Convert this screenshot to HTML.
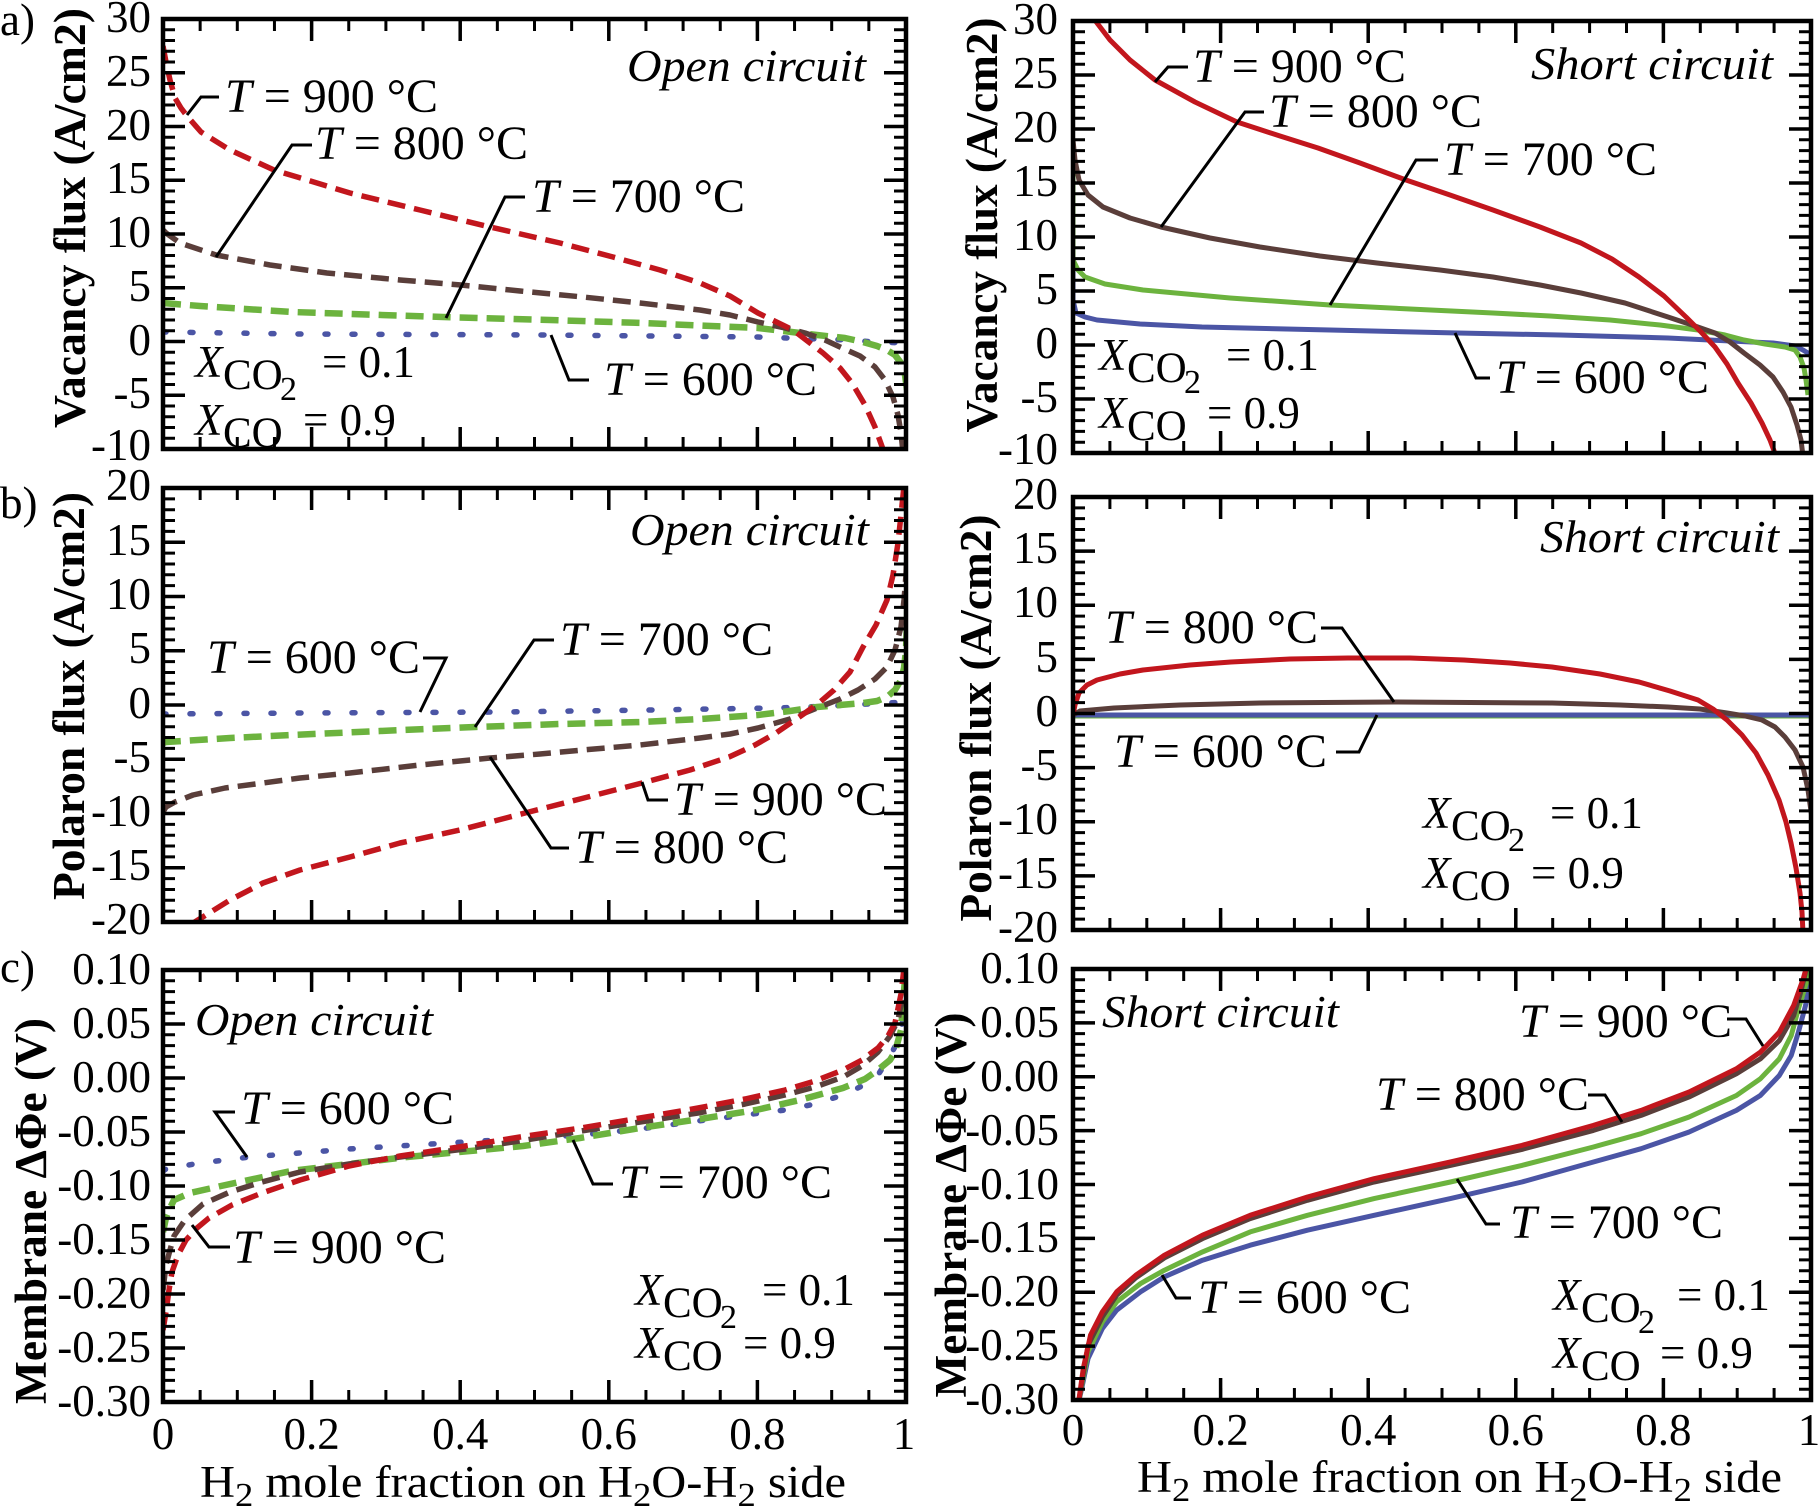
<!DOCTYPE html>
<html><head><meta charset="utf-8"><style>
html,body{margin:0;padding:0;background:#fff;}
svg{display:block;}
text{font-family:"Liberation Serif","DejaVu Serif",serif;fill:#000;}
.tl{font-size:45px;}
.tr{font-size:45px;text-anchor:end;}
.tc{font-size:45px;text-anchor:middle;}
.lab{font-size:48px;}
.it{font-style:italic;}
.yl{font-size:45px;font-weight:bold;text-anchor:middle;}
.sb{font-size:43px;}
.ss{font-size:34px;}
.ld{fill:none;stroke:#000;stroke-width:3;}
.fr{fill:none;stroke:#000;stroke-width:4.5;}
.tk line{stroke:#000;}
.c{fill:none;stroke-linejoin:round;}
.r{stroke:#c2161d;}
.b{stroke:#5a3e3a;}
.g{stroke:#6cb33e;}
.u{stroke:#4b55a5;}
.ds{stroke-width:5.5;stroke-dasharray:18 9;}
.dg{stroke-width:6.5;stroke-dasharray:18 9;}
.dt{stroke-width:5.5;stroke-dasharray:3 24;stroke-linecap:round;}
.so{stroke-width:5;}
</style></head><body>
<svg width="1820" height="1507" viewBox="0 0 1820 1507" xmlns="http://www.w3.org/2000/svg">
<defs>
<clipPath id="cAL"><rect x="163" y="19" width="743" height="430"/></clipPath>
<clipPath id="cAR"><rect x="1073" y="21" width="738" height="432"/></clipPath>
<clipPath id="cBL"><rect x="163" y="488" width="743" height="434"/></clipPath>
<clipPath id="cBR"><rect x="1073" y="497" width="738" height="433"/></clipPath>
<clipPath id="cCL"><rect x="163" y="970" width="743" height="432"/></clipPath>
<clipPath id="cCR"><rect x="1073" y="969" width="738" height="431"/></clipPath>
</defs>
<rect width="1820" height="1507" fill="#fff"/>

<!-- ===== Panel a left ===== -->
<g clip-path="url(#cAL)">
<polyline class="c u dt" points="163,332 300,334 548,335 758,337 850,340 875,342 906,343"/>
<polyline class="c g dg" points="163,303 200,306 292,312 443,317 550,320 642,323 758,328 817,335 845,338 863,342 877,346 887,350 895,355 901,363 905,375 907,390"/>
<polyline class="c b ds" points="163,230 166,233 180,243 216,255 270,265 327,273 400,280 461,285 520,291 583,297 640,303 700,310 730,315 758,322 785,328 805,333 825,340 840,347 860,356 875,367 885,380 893,397 898,415 901,433 903,452"/>
<polyline class="c r ds" points="163,46 166,62 170,80 175,98 181,108 187,116 201,132 230,150 274,170 350,193 420,210 490,227 560,243 613,257 660,270 700,283 730,296 758,313 793,330 823,353 840,368 852,383 865,405 875,427 884,452"/>
</g>
<rect class="fr" x="163" y="19" width="743" height="430"/>
<g class="tk">
<line x1="169" y1="19" x2="169" y2="449" stroke-width="12" stroke-dasharray="3 7.75" stroke-dashoffset="1.5"/>
<line x1="174" y1="19" x2="174" y2="449" stroke-width="22" stroke-dasharray="3.5 50.25" stroke-dashoffset="1.75"/>
<line x1="900" y1="19" x2="900" y2="449" stroke-width="12" stroke-dasharray="3 7.75" stroke-dashoffset="1.5"/>
<line x1="895" y1="19" x2="895" y2="449" stroke-width="22" stroke-dasharray="3.5 50.25" stroke-dashoffset="1.75"/>
<line x1="163" y1="25" x2="906" y2="25" stroke-width="12" stroke-dasharray="3 34.15" stroke-dashoffset="1.5"/>
<line x1="163" y1="30" x2="906" y2="30" stroke-width="22" stroke-dasharray="3.5 145.1" stroke-dashoffset="1.75"/>
<line x1="163" y1="443" x2="906" y2="443" stroke-width="12" stroke-dasharray="3 34.15" stroke-dashoffset="1.5"/>
<line x1="163" y1="438" x2="906" y2="438" stroke-width="22" stroke-dasharray="3.5 145.1" stroke-dashoffset="1.75"/>
</g>
<text class="tr" x="151" y="32">30</text>
<text class="tr" x="151" y="86">25</text>
<text class="tr" x="151" y="140">20</text>
<text class="tr" x="151" y="193">15</text>
<text class="tr" x="151" y="247">10</text>
<text class="tr" x="151" y="301">5</text>
<text class="tr" x="151" y="355">0</text>
<text class="tr" x="151" y="408">-5</text>
<text class="tr" x="151" y="460">-10</text>
<text class="tl" x="0" y="35">a)</text>
<text class="yl" transform="translate(85,218) rotate(-90)" textLength="420" lengthAdjust="spacingAndGlyphs">Vacancy flux (A/cm2)</text>
<text class="tl it" x="627" y="81" textLength="239" lengthAdjust="spacingAndGlyphs">Open circuit</text>
<polyline class="ld" points="187,115 201,97 219,97"/>
<text class="lab" x="225" y="112"><tspan class="it">T</tspan> = 900 °C</text>
<polyline class="ld" points="216,257 292,145 312,145"/>
<text class="lab" x="315" y="159"><tspan class="it">T</tspan> = 800 °C</text>
<polyline class="ld" points="446,318 505,197 525,197"/>
<text class="lab" x="532" y="212"><tspan class="it">T</tspan> = 700 °C</text>
<polyline class="ld" points="551,335 569,380 589,380"/>
<text class="lab" x="604" y="395"><tspan class="it">T</tspan> = 600 °C</text>
<text class="tl it" x="195" y="377">X</text>
<text class="sb" x="223" y="389">CO</text>
<text class="ss" x="280" y="400">2</text>
<text class="tl" x="322" y="377">= 0.1</text>
<text class="tl it" x="195" y="435">X</text>
<text class="sb" x="223" y="447">CO</text>
<text class="tl" x="303" y="435">= 0.9</text>

<!-- ===== Panel a right ===== -->
<g clip-path="url(#cAR)">
<polyline class="c u so" points="1073,268 1073,300 1076,313 1085,317 1097,320 1140,324 1202,327 1330,330 1458,333 1560,335 1668,338 1730,341 1773,343 1795,346 1803,350 1811,355"/>
<polyline class="c g so" points="1073,157 1073,200 1073,260 1078,270 1085,277 1105,284 1143,290 1230,298 1330,305 1410,309 1493,313 1550,316 1610,320 1660,325 1698,330 1725,335 1744,340 1765,344 1785,347 1795,350 1800,357 1804,368 1806,380 1808,395"/>
<polyline class="c b so" points="1073,140 1075,160 1079,180 1088,195 1103,207 1130,218 1161,227 1210,238 1260,247 1320,256 1377,263 1440,270 1493,277 1540,285 1581,293 1625,303 1668,317 1695,326 1715,333 1730,342 1744,353 1760,365 1773,377 1783,392 1791,407 1797,425 1801,440 1803,456"/>
<polyline class="c r so" points="1094,19 1110,40 1130,60 1155,80 1195,102 1237,122 1280,136 1318,148 1360,163 1406,180 1450,195 1493,210 1540,227 1581,243 1612,259 1639,277 1664,296 1686,317 1701,332 1715,347 1727,364 1738,383 1751,403 1762,423 1770,440 1776,456"/>
</g>
<rect class="fr" x="1073" y="21" width="738" height="432"/>
<g class="tk">
<line x1="1079" y1="21" x2="1079" y2="453" stroke-width="12" stroke-dasharray="3 7.8" stroke-dashoffset="1.5"/>
<line x1="1084" y1="21" x2="1084" y2="453" stroke-width="22" stroke-dasharray="3.5 50.5" stroke-dashoffset="1.75"/>
<line x1="1805" y1="21" x2="1805" y2="453" stroke-width="12" stroke-dasharray="3 7.8" stroke-dashoffset="1.5"/>
<line x1="1800" y1="21" x2="1800" y2="453" stroke-width="22" stroke-dasharray="3.5 50.5" stroke-dashoffset="1.75"/>
<line x1="1073" y1="27" x2="1811" y2="27" stroke-width="12" stroke-dasharray="3 33.9" stroke-dashoffset="1.5"/>
<line x1="1073" y1="32" x2="1811" y2="32" stroke-width="22" stroke-dasharray="3.5 144.1" stroke-dashoffset="1.75"/>
<line x1="1073" y1="447" x2="1811" y2="447" stroke-width="12" stroke-dasharray="3 33.9" stroke-dashoffset="1.5"/>
<line x1="1073" y1="442" x2="1811" y2="442" stroke-width="22" stroke-dasharray="3.5 144.1" stroke-dashoffset="1.75"/>
</g>
<text class="tr" x="1058" y="34">30</text>
<text class="tr" x="1058" y="88">25</text>
<text class="tr" x="1058" y="142">20</text>
<text class="tr" x="1058" y="196">15</text>
<text class="tr" x="1058" y="250">10</text>
<text class="tr" x="1058" y="304">5</text>
<text class="tr" x="1058" y="358">0</text>
<text class="tr" x="1058" y="412">-5</text>
<text class="tr" x="1058" y="464">-10</text>
<text class="yl" transform="translate(997,225) rotate(-90)" textLength="415" lengthAdjust="spacingAndGlyphs">Vacancy flux (A/cm2)</text>
<text class="tl it" x="1531" y="79" textLength="242" lengthAdjust="spacingAndGlyphs">Short circuit</text>
<polyline class="ld" points="1155,82 1168,67 1188,67"/>
<text class="lab" x="1193" y="82"><tspan class="it">T</tspan> = 900 °C</text>
<polyline class="ld" points="1161,227 1245,112 1264,112"/>
<text class="lab" x="1269" y="127"><tspan class="it">T</tspan> = 800 °C</text>
<polyline class="ld" points="1330,305 1416,160 1438,160"/>
<text class="lab" x="1444" y="175"><tspan class="it">T</tspan> = 700 °C</text>
<polyline class="ld" points="1455,333 1476,378 1490,378"/>
<text class="lab" x="1496" y="393"><tspan class="it">T</tspan> = 600 °C</text>
<text class="tl it" x="1099" y="370">X</text>
<text class="sb" x="1127" y="382">CO</text>
<text class="ss" x="1184" y="393">2</text>
<text class="tl" x="1226" y="370">= 0.1</text>
<text class="tl it" x="1099" y="428">X</text>
<text class="sb" x="1127" y="440">CO</text>
<text class="tl" x="1207" y="428">= 0.9</text>

<!-- ===== Panel b left ===== -->
<g clip-path="url(#cBL)">
<polyline class="c u dt" points="163,714 300,713 500,712 650,710 776,708 830,706 887,703 906,702"/>
<polyline class="c g dg" points="163,743 166,742 230,738 292,735 380,731 475,727 560,724 642,722 700,719 758,715 790,711 817,707 840,705 863,703 877,701 887,697 895,690 901,680 904,668 906,650 907,620 908,560 909,486"/>
<polyline class="c b ds" points="163,812 166,807 175,802 193,795 225,788 263,783 300,778 350,773 420,765 490,758 540,754 583,750 640,745 700,738 730,734 758,728 790,719 817,708 840,699 858,690 875,679 887,667 895,650 901,627 904,600 906,575 907,550"/>
<polyline class="c r ds" points="190,925 198,920 230,900 263,883 300,870 350,857 400,843 460,830 525,813 580,799 642,783 690,770 729,757 755,745 776,733 792,722 805,713 820,702 834,690 850,672 863,647 876,625 887,600 893,575 898,543 901,515 904,486"/>
</g>
<rect class="fr" x="163" y="488" width="743" height="434"/>
<g class="tk">
<line x1="169" y1="488" x2="169" y2="922" stroke-width="12" stroke-dasharray="3 7.85" stroke-dashoffset="1.5"/>
<line x1="174" y1="488" x2="174" y2="922" stroke-width="22" stroke-dasharray="3.5 50.75" stroke-dashoffset="1.75"/>
<line x1="900" y1="488" x2="900" y2="922" stroke-width="12" stroke-dasharray="3 7.85" stroke-dashoffset="1.5"/>
<line x1="895" y1="488" x2="895" y2="922" stroke-width="22" stroke-dasharray="3.5 50.75" stroke-dashoffset="1.75"/>
<line x1="163" y1="494" x2="906" y2="494" stroke-width="12" stroke-dasharray="3 34.15" stroke-dashoffset="1.5"/>
<line x1="163" y1="499" x2="906" y2="499" stroke-width="22" stroke-dasharray="3.5 145.1" stroke-dashoffset="1.75"/>
<line x1="163" y1="916" x2="906" y2="916" stroke-width="12" stroke-dasharray="3 34.15" stroke-dashoffset="1.5"/>
<line x1="163" y1="911" x2="906" y2="911" stroke-width="22" stroke-dasharray="3.5 145.1" stroke-dashoffset="1.75"/>
</g>
<text class="tr" x="151" y="500">20</text>
<text class="tr" x="151" y="555">15</text>
<text class="tr" x="151" y="609">10</text>
<text class="tr" x="151" y="663">5</text>
<text class="tr" x="151" y="718">0</text>
<text class="tr" x="151" y="772">-5</text>
<text class="tr" x="151" y="826">-10</text>
<text class="tr" x="151" y="880">-15</text>
<text class="tr" x="151" y="934">-20</text>
<text class="tl" x="0" y="518">b)</text>
<text class="yl" transform="translate(84,696) rotate(-90)" textLength="408" lengthAdjust="spacingAndGlyphs">Polaron flux (A/cm2)</text>
<text class="tl it" x="630" y="545" textLength="239" lengthAdjust="spacingAndGlyphs">Open circuit</text>
<polyline class="ld" points="420,712 446,658 423,658"/>
<text class="lab" x="207" y="673"><tspan class="it">T</tspan> = 600 °C</text>
<polyline class="ld" points="475,727 534,640 554,640"/>
<text class="lab" x="560" y="655"><tspan class="it">T</tspan> = 700 °C</text>
<polyline class="ld" points="642,782 648,800 668,800"/>
<text class="lab" x="674" y="815"><tspan class="it">T</tspan> = 900 °C</text>
<polyline class="ld" points="490,757 551,848 569,848"/>
<text class="lab" x="575" y="863"><tspan class="it">T</tspan> = 800 °C</text>

<!-- ===== Panel b right ===== -->
<g clip-path="url(#cBR)">
<polyline class="c g so" points="1073,716 1811,716"/>
<polyline class="c u so" points="1073,715 1811,715"/>
<polyline class="c b so" points="1073,715 1080,711 1114,708 1180,705 1260,703 1394,702 1552,703 1620,705 1668,707 1700,709 1727,713 1745,716 1762,720 1775,727 1785,737 1795,750 1803,767 1808,790 1812,818"/>
<polyline class="c r so" points="1073,715 1075,705 1079,693 1087,685 1097,680 1120,674 1143,670 1190,665 1231,662 1290,659 1348,658 1410,658 1464,660 1510,663 1552,667 1600,674 1639,682 1670,691 1698,700 1713,709 1727,720 1742,735 1756,753 1768,775 1779,800 1786,822 1791,843 1796,868 1800,893 1802,912 1803,933"/>
</g>
<rect class="fr" x="1073" y="497" width="738" height="433"/>
<g class="tk">
<line x1="1079" y1="497" x2="1079" y2="930" stroke-width="12" stroke-dasharray="3 7.825" stroke-dashoffset="1.5"/>
<line x1="1084" y1="497" x2="1084" y2="930" stroke-width="22" stroke-dasharray="3.5 50.625" stroke-dashoffset="1.75"/>
<line x1="1805" y1="497" x2="1805" y2="930" stroke-width="12" stroke-dasharray="3 7.825" stroke-dashoffset="1.5"/>
<line x1="1800" y1="497" x2="1800" y2="930" stroke-width="22" stroke-dasharray="3.5 50.625" stroke-dashoffset="1.75"/>
<line x1="1073" y1="503" x2="1811" y2="503" stroke-width="12" stroke-dasharray="3 33.9" stroke-dashoffset="1.5"/>
<line x1="1073" y1="508" x2="1811" y2="508" stroke-width="22" stroke-dasharray="3.5 144.1" stroke-dashoffset="1.75"/>
<line x1="1073" y1="924" x2="1811" y2="924" stroke-width="12" stroke-dasharray="3 33.9" stroke-dashoffset="1.5"/>
<line x1="1073" y1="919" x2="1811" y2="919" stroke-width="22" stroke-dasharray="3.5 144.1" stroke-dashoffset="1.75"/>
</g>
<text class="tr" x="1058" y="509">20</text>
<text class="tr" x="1058" y="563">15</text>
<text class="tr" x="1058" y="617">10</text>
<text class="tr" x="1058" y="672">5</text>
<text class="tr" x="1058" y="726">0</text>
<text class="tr" x="1058" y="780">-5</text>
<text class="tr" x="1058" y="834">-10</text>
<text class="tr" x="1058" y="888">-15</text>
<text class="tr" x="1058" y="942">-20</text>
<text class="yl" transform="translate(991,718) rotate(-90)" textLength="407" lengthAdjust="spacingAndGlyphs">Polaron flux (A/cm2)</text>
<text class="tl it" x="1540" y="552" textLength="239" lengthAdjust="spacingAndGlyphs">Short circuit</text>
<polyline class="ld" points="1321,628 1342,628 1394,702"/>
<text class="lab" x="1105" y="643"><tspan class="it">T</tspan> = 800 °C</text>
<polyline class="ld" points="1336,752 1359,752 1377,715"/>
<text class="lab" x="1114" y="767"><tspan class="it">T</tspan> = 600 °C</text>
<text class="tl it" x="1423" y="828">X</text>
<text class="sb" x="1451" y="840">CO</text>
<text class="ss" x="1508" y="851">2</text>
<text class="tl" x="1550" y="828">= 0.1</text>
<text class="tl it" x="1423" y="888">X</text>
<text class="sb" x="1451" y="900">CO</text>
<text class="tl" x="1531" y="888">= 0.9</text>

<!-- ===== Panel c left ===== -->
<g clip-path="url(#cCL)">
<polyline class="c u dt" points="163,1171 166,1169 200,1163 250,1157 349,1149 465,1142 581,1135 640,1129 698,1121 745,1115 785,1110 815,1104 843,1095 862,1086 878,1075 890,1056 898,1041 903,1020 906,1005"/>
<polyline class="c g dg" points="163,1232 166,1218 170,1208 174,1200 190,1193 221,1186 291,1171 407,1157 523,1146 580,1138 640,1128 700,1119 756,1110 800,1100 843,1088 865,1079 878,1070 890,1060 895,1052 901,1030 904,991 906,968"/>
<polyline class="c b ds" points="163,1290 166,1265 170,1250 174,1236 185,1220 203,1204 230,1192 262,1182 300,1172 349,1164 400,1157 465,1149 520,1141 581,1131 640,1122 698,1113 745,1104 785,1095 815,1087 843,1077 862,1066 878,1052 890,1036 898,1020 901,1005 904,990"/>
<polyline class="c r ds" points="163,1330 166,1312 169,1290 172,1272 178,1255 186,1240 197,1228 209,1218 232,1205 262,1193 300,1180 349,1166 400,1156 465,1146 520,1137 581,1128 640,1118 698,1108 745,1099 785,1090 815,1081 843,1070 862,1060 878,1048 888,1036 895,1023 901,994 904,968"/>
</g>
<rect class="fr" x="163" y="970" width="743" height="432"/>
<g class="tk">
<line x1="169" y1="970" x2="169" y2="1402" stroke-width="12" stroke-dasharray="3 7.8" stroke-dashoffset="1.5"/>
<line x1="174" y1="970" x2="174" y2="1402" stroke-width="22" stroke-dasharray="3.5 50.5" stroke-dashoffset="1.75"/>
<line x1="900" y1="970" x2="900" y2="1402" stroke-width="12" stroke-dasharray="3 7.8" stroke-dashoffset="1.5"/>
<line x1="895" y1="970" x2="895" y2="1402" stroke-width="22" stroke-dasharray="3.5 50.5" stroke-dashoffset="1.75"/>
<line x1="163" y1="976" x2="906" y2="976" stroke-width="12" stroke-dasharray="3 34.15" stroke-dashoffset="1.5"/>
<line x1="163" y1="981" x2="906" y2="981" stroke-width="22" stroke-dasharray="3.5 145.1" stroke-dashoffset="1.75"/>
<line x1="163" y1="1396" x2="906" y2="1396" stroke-width="12" stroke-dasharray="3 34.15" stroke-dashoffset="1.5"/>
<line x1="163" y1="1391" x2="906" y2="1391" stroke-width="22" stroke-dasharray="3.5 145.1" stroke-dashoffset="1.75"/>
</g>
<text class="tr" x="151" y="984">0.10</text>
<text class="tr" x="151" y="1038">0.05</text>
<text class="tr" x="151" y="1092">0.00</text>
<text class="tr" x="151" y="1146">-0.05</text>
<text class="tr" x="151" y="1200">-0.10</text>
<text class="tr" x="151" y="1254">-0.15</text>
<text class="tr" x="151" y="1308">-0.20</text>
<text class="tr" x="151" y="1362">-0.25</text>
<text class="tr" x="151" y="1416">-0.30</text>
<text class="tc" x="163" y="1449">0</text>
<text class="tc" x="311.6" y="1449">0.2</text>
<text class="tc" x="460.2" y="1449">0.4</text>
<text class="tc" x="608.8" y="1449">0.6</text>
<text class="tc" x="757.4" y="1449">0.8</text>
<text class="tc" x="904" y="1449">1</text>
<text class="tl" x="0" y="982">c)</text>
<text class="yl" transform="translate(46,1211) rotate(-90)" textLength="386" lengthAdjust="spacingAndGlyphs">Membrane ΔΦe (V)</text>
<text class="tl" x="200" y="1497" textLength="646" lengthAdjust="spacingAndGlyphs">H<tspan dy="9" style="font-size:34px">2</tspan><tspan dy="-9"> mole fraction on H</tspan><tspan dy="9" style="font-size:34px">2</tspan><tspan dy="-9">O-H</tspan><tspan dy="9" style="font-size:34px">2</tspan><tspan dy="-9"> side</tspan></text>
<text class="tl it" x="195" y="1035" textLength="238" lengthAdjust="spacingAndGlyphs">Open circuit</text>
<polyline class="ld" points="247,1157 215,1112 235,1112"/>
<text class="lab" x="241" y="1124"><tspan class="it">T</tspan> = 600 °C</text>
<polyline class="ld" points="573,1140 593,1184 613,1184"/>
<text class="lab" x="619" y="1198"><tspan class="it">T</tspan> = 700 °C</text>
<polyline class="ld" points="192,1225 209,1247 230,1247"/>
<text class="lab" x="233" y="1263"><tspan class="it">T</tspan> = 900 °C</text>
<text class="tl it" x="635" y="1305">X</text>
<text class="sb" x="663" y="1317">CO</text>
<text class="ss" x="720" y="1328">2</text>
<text class="tl" x="762" y="1305">= 0.1</text>
<text class="tl it" x="635" y="1358">X</text>
<text class="sb" x="663" y="1370">CO</text>
<text class="tl" x="743" y="1358">= 0.9</text>

<!-- ===== Panel c right ===== -->
<g clip-path="url(#cCR)">
<polyline class="c u so" points="1078.6,1402 1081,1391.7 1088.1,1358.4 1102.4,1328.4 1116.7,1310.1 1140.6,1291.8 1164.4,1276.8 1202.5,1260.2 1250.2,1245.2 1307.4,1230.2 1374.1,1215.3 1450.4,1198.6 1521.9,1182 1593.4,1162 1641.1,1148.7 1688.8,1132.1 1736.4,1110.4 1760.3,1095.5 1779.3,1075.5 1791.2,1055.5 1798.4,1032.2 1805.5,1005.6 1808.8,985.6 1811,965"/>
<polyline class="c g so" points="1078.6,1402 1088.1,1351.7 1102.4,1321.8 1116.7,1301.8 1140.6,1283.5 1164.4,1270.2 1202.5,1251.9 1250.2,1231.9 1307.4,1215.3 1374.1,1198.6 1450.4,1182 1521.9,1165.4 1593.4,1147 1641.1,1133.7 1688.8,1117.1 1736.4,1095.5 1760.3,1078.8 1779.3,1058.9 1791.2,1035.6 1798.4,1008.9 1805.5,985.6 1808.8,975.7 1810,965"/>
<polyline class="c b so" points="1078.6,1402 1088.1,1345.1 1102.4,1316.8 1116.7,1295.1 1135.8,1277.8 1164.4,1257.9 1202.5,1238.6 1250.2,1218.6 1307.4,1200.3 1374.1,1182 1450.4,1165.4 1521.9,1149.4 1593.4,1130.4 1641.1,1115.4 1688.8,1097.1 1736.4,1073.8 1760.3,1058.9 1779.3,1040.6 1793.6,1015.6 1800.7,992.3 1805.5,972.3 1806.5,965"/>
<polyline class="c r so" points="1078.6,1402 1083.3,1368.4 1090.5,1335.1 1102.4,1311.8 1116.7,1291.8 1135.8,1275.2 1164.4,1255.2 1202.5,1235.2 1250.2,1215.3 1307.4,1197 1374.1,1178.7 1450.4,1162 1521.9,1145.4 1593.4,1125.4 1641.1,1110.4 1688.8,1092.1 1736.4,1068.8 1760.3,1052.2 1779.3,1032.2 1793.6,1005.6 1803.2,979 1807,965"/>
</g>
<rect class="fr" x="1073" y="969" width="738" height="431"/>
<g class="tk">
<line x1="1079" y1="969" x2="1079" y2="1400" stroke-width="12" stroke-dasharray="3 7.775" stroke-dashoffset="1.5"/>
<line x1="1084" y1="969" x2="1084" y2="1400" stroke-width="22" stroke-dasharray="3.5 50.375" stroke-dashoffset="1.75"/>
<line x1="1805" y1="969" x2="1805" y2="1400" stroke-width="12" stroke-dasharray="3 7.775" stroke-dashoffset="1.5"/>
<line x1="1800" y1="969" x2="1800" y2="1400" stroke-width="22" stroke-dasharray="3.5 50.375" stroke-dashoffset="1.75"/>
<line x1="1073" y1="975" x2="1811" y2="975" stroke-width="12" stroke-dasharray="3 33.9" stroke-dashoffset="1.5"/>
<line x1="1073" y1="980" x2="1811" y2="980" stroke-width="22" stroke-dasharray="3.5 144.1" stroke-dashoffset="1.75"/>
<line x1="1073" y1="1394" x2="1811" y2="1394" stroke-width="12" stroke-dasharray="3 33.9" stroke-dashoffset="1.5"/>
<line x1="1073" y1="1389" x2="1811" y2="1389" stroke-width="22" stroke-dasharray="3.5 144.1" stroke-dashoffset="1.75"/>
</g>
<text class="tr" x="1059" y="983">0.10</text>
<text class="tr" x="1059" y="1037">0.05</text>
<text class="tr" x="1059" y="1091">0.00</text>
<text class="tr" x="1059" y="1145">-0.05</text>
<text class="tr" x="1059" y="1199">-0.10</text>
<text class="tr" x="1059" y="1252">-0.15</text>
<text class="tr" x="1059" y="1306">-0.20</text>
<text class="tr" x="1059" y="1360">-0.25</text>
<text class="tr" x="1059" y="1414">-0.30</text>
<text class="tc" x="1073" y="1445">0</text>
<text class="tc" x="1220.6" y="1445">0.2</text>
<text class="tc" x="1368.2" y="1445">0.4</text>
<text class="tc" x="1515.8" y="1445">0.6</text>
<text class="tc" x="1663.4" y="1445">0.8</text>
<text class="tc" x="1809" y="1445">1</text>
<text class="yl" transform="translate(966,1205) rotate(-90)" textLength="385" lengthAdjust="spacingAndGlyphs">Membrane ΔΦe (V)</text>
<text class="tl" x="1137" y="1492" textLength="645" lengthAdjust="spacingAndGlyphs">H<tspan dy="9" style="font-size:34px">2</tspan><tspan dy="-9"> mole fraction on H</tspan><tspan dy="9" style="font-size:34px">2</tspan><tspan dy="-9">O-H</tspan><tspan dy="9" style="font-size:34px">2</tspan><tspan dy="-9"> side</tspan></text>
<text class="tl it" x="1102" y="1027" textLength="237" lengthAdjust="spacingAndGlyphs">Short circuit</text>
<polyline class="ld" points="1727,1019 1746,1019 1763,1046"/>
<text class="lab" x="1519" y="1037"><tspan class="it">T</tspan> = 900 °C</text>
<polyline class="ld" points="1588,1095 1605,1095 1622,1122"/>
<text class="lab" x="1376" y="1110"><tspan class="it">T</tspan> = 800 °C</text>
<polyline class="ld" points="1457,1179 1486,1224 1500,1224"/>
<text class="lab" x="1510" y="1238"><tspan class="it">T</tspan> = 700 °C</text>
<polyline class="ld" points="1162,1275 1176,1298 1191,1298"/>
<text class="lab" x="1198" y="1313"><tspan class="it">T</tspan> = 600 °C</text>
<text class="tl it" x="1553" y="1310">X</text>
<text class="sb" x="1581" y="1322">CO</text>
<text class="ss" x="1638" y="1333">2</text>
<text class="tl" x="1677" y="1310">= 0.1</text>
<text class="tl it" x="1553" y="1368">X</text>
<text class="sb" x="1581" y="1380">CO</text>
<text class="tl" x="1660" y="1368">= 0.9</text>
</svg>
</body></html>
